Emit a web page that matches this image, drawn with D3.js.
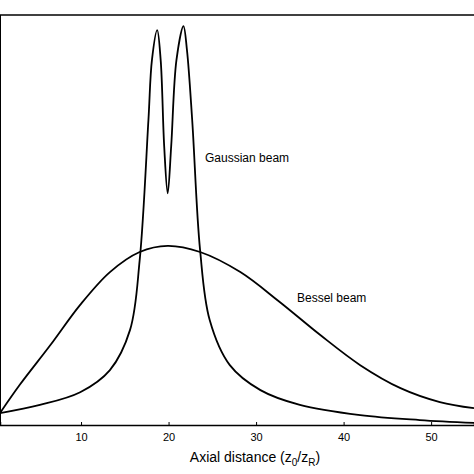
<!DOCTYPE html><html><head><meta charset="utf-8"><script src="https://cdn.jsdelivr.net/npm/d3@7"></script>
<style>body{margin:0;background:#fff}text{font-family:"Liberation Sans",Arial,sans-serif}</style></head><body><svg id="c" width="474" height="474"></svg>
<script>
const gaussZ=[0.74,5.3,9.9,13.3,15.6,16.7,17.7,18.1,18.7,19.1,19.5,19.9,20.3,20.9,21.7,22.1,22.7,23.6,24.7,27.0,30.5,35,41.9,48.7,54.9];
const gaussI=[0.029,0.049,0.080,0.134,0.232,0.402,0.744,0.890,0.963,0.890,0.680,0.565,0.680,0.890,0.973,0.915,0.744,0.427,0.256,0.146,0.085,0.049,0.024,0.012,0.005];
const besselZ=[0.74,3.0,6.5,9.9,13.3,16.7,19.9,23.6,28.2,32.7,37.3,41.9,46.5,51,54.9];
const besselI=[0.029,0.098,0.195,0.293,0.373,0.422,0.437,0.422,0.373,0.300,0.220,0.146,0.090,0.056,0.041];
const xTicks=[10,20,30,40,50];
const svg=d3.select("#c");
const x=d3.scaleLinear().domain([0.74,54.9]).range([0,474]);
const y=d3.scaleLinear().domain([0,1]).range([425,15]);
svg.append("line").attr("x1",0).attr("x2",474).attr("y1",15).attr("y2",15).attr("stroke","#000").attr("stroke-width",1.5);
const ax=svg.append("g").attr("transform","translate(0,425)").call(d3.axisBottom(x).tickValues(xTicks).tickSize(-3).tickPadding(8));
ax.select(".domain").attr("stroke-width",1.5);
ax.selectAll("text").attr("font-size",11).attr("fill","#000");
svg.append("line").attr("x1",0.5).attr("x2",0.5).attr("y1",15).attr("y2",425).attr("stroke","#000");
const line=d3.line().curve(d3.curveCatmullRom.alpha(0.5)).x(d=>x(d[0])).y(d=>y(d[1]));
svg.append("path").datum(gaussZ.map((z,i)=>[z,gaussI[i]])).attr("d",line).attr("fill","none").attr("stroke","#000").attr("stroke-width",1.8);
svg.append("path").datum(besselZ.map((z,i)=>[z,besselI[i]])).attr("d",line).attr("fill","none").attr("stroke","#000").attr("stroke-width",1.8);
svg.append("text").attr("x",205).attr("y",162).attr("font-size",12).text("Gaussian beam");
svg.append("text").attr("x",297).attr("y",302).attr("font-size",12).text("Bessel beam");
const t=svg.append("text").attr("x",255).attr("y",462).attr("text-anchor","middle").attr("font-size",14);
t.append("tspan").text("Axial distance (z");
t.append("tspan").attr("font-size",10).attr("dy",4).text("0");
t.append("tspan").attr("dy",-4).text("/z");
t.append("tspan").attr("font-size",10).attr("dy",4).text("R");
t.append("tspan").attr("dy",-4).text(")");
</script></body></html>
